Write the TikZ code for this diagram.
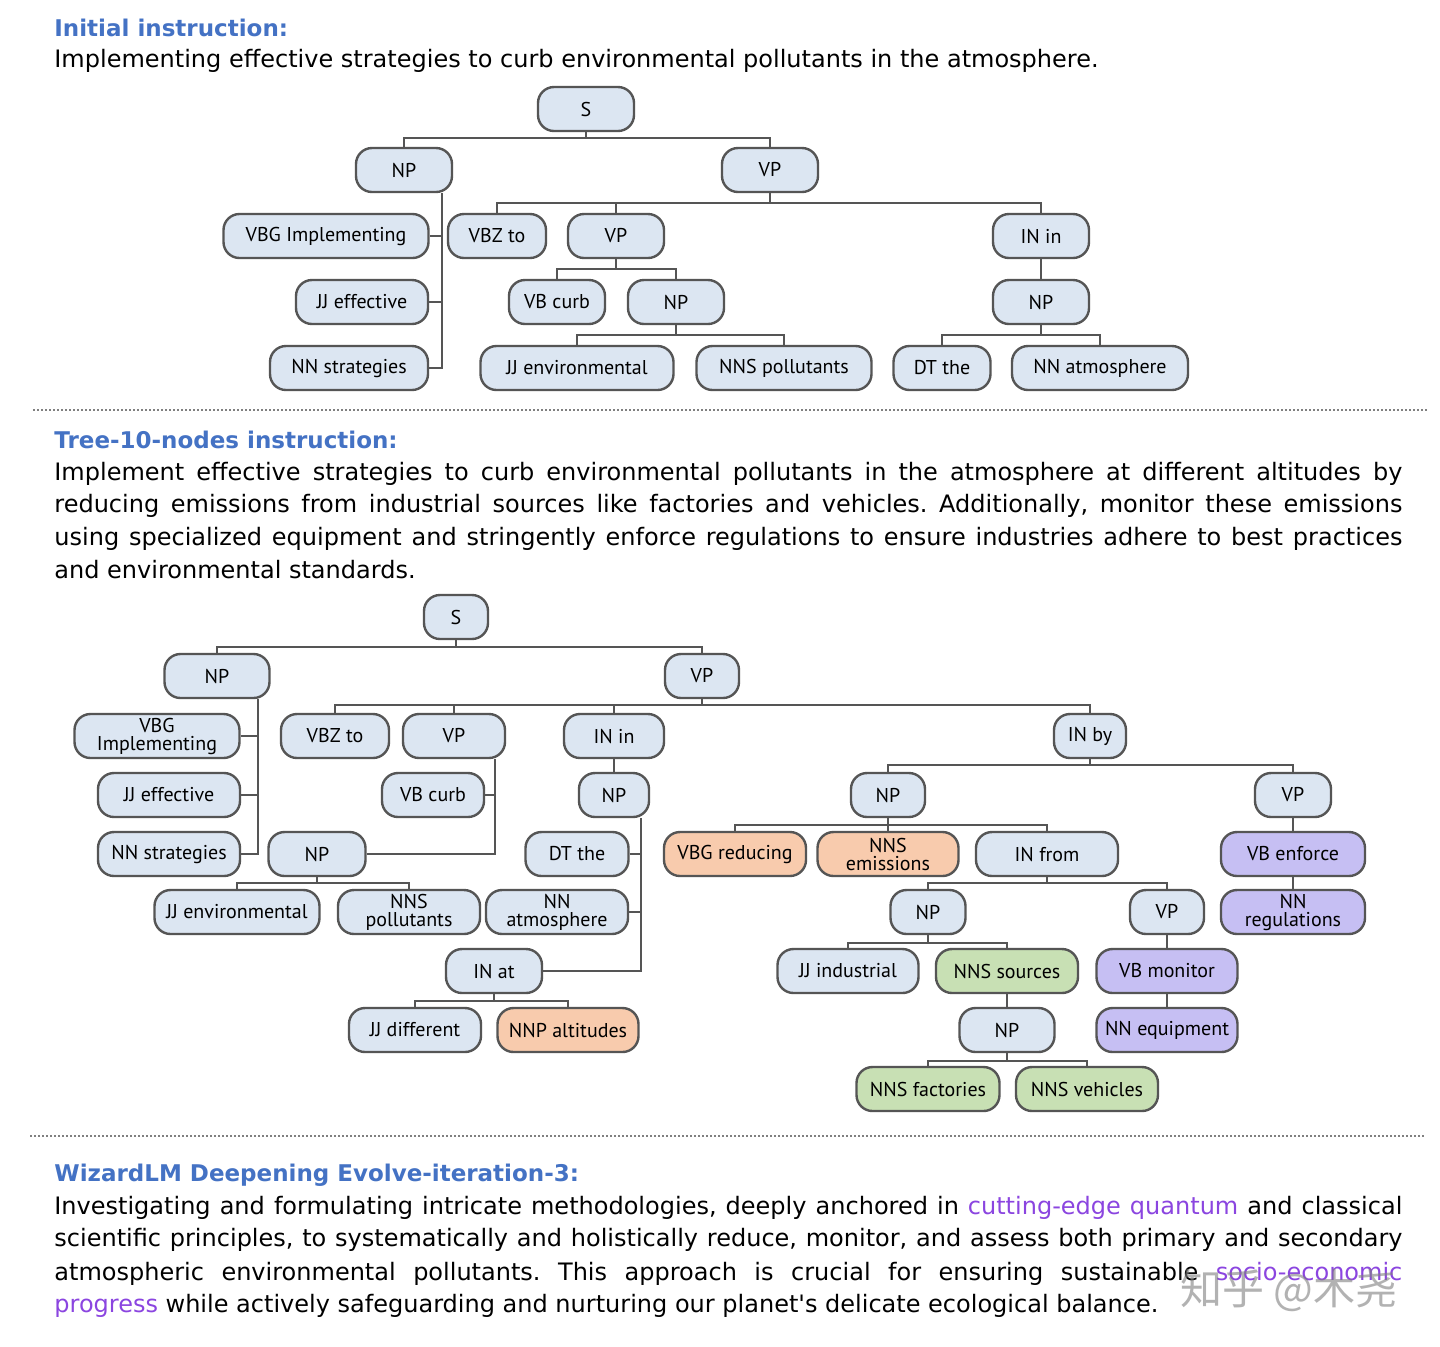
\documentclass[tikz,border=0pt]{standalone}
\usepackage{fontspec}
\usepackage{xcolor}
\setmainfont{DejaVu Sans}
\newfontfamily\nodefont{PT Sans}
\newfontfamily\cjkfont{Noto Sans CJK SC}
\definecolor{nblue}{HTML}{DCE6F2}
\definecolor{norange}{HTML}{F8CBAD}
\definecolor{ngreen}{HTML}{C8E0B4}
\definecolor{npurple}{HTML}{C6BFF3}
\definecolor{lineg}{HTML}{555555}
\definecolor{headblue}{HTML}{4472C4}
\definecolor{hl}{HTML}{8B45E0}
\newcommand\busdown[3]{\foreach \cc in {#3}{\draw[edge] (#1.south) -- (#1.south |- 0,#2) -| (\cc.north);}}
\newcommand\busside[3]{\foreach \cc in {#3}{\draw[edge] (\cc.east) -| (#1.south -| #2,0);}}
\newcommand\jline[1]{\makebox[674pt][s]{#1}}
\newcommand\straightapos{\XeTeXglyph\XeTeXcharglyph"27\relax}
\frenchspacing
\begin{document}
\begin{tikzpicture}[x=0.5pt,y=-0.5pt,
  tn/.style={draw=lineg, line width=1.2pt, rounded corners=8pt, fill=nblue, minimum height=22pt, inner sep=1pt, align=center, font=\nodefont\fontsize{10}{9}\selectfont},
  tw/.style={minimum width=#1*0.5pt},
  obr/.style={fill=norange}, ogr/.style={fill=ngreen}, opu/.style={fill=npurple},
  edge/.style={draw=lineg, line width=1.2pt},
  txt/.style={anchor=base west, inner sep=0, font=\fontsize{12}{14}\selectfont},
  head/.style={anchor=base west, inner sep=0, text=headblue, font=\bfseries\fontsize{11.5}{14}\selectfont},
  sep/.style={draw=gray, line width=0.6pt, dash pattern=on 1pt off 1pt}]
\fill[white] (0,0) rectangle (1440,1346);
\useasboundingbox (0,0) rectangle (1440,1346);

% ---------- Section 1 text ----------
\node[head] (h1) at (54,36) {Initial instruction:};
\node[txt] (t1) at (54,67) {Implementing effective strategies to curb environmental pollutants in the atmosphere.};

% ---------- Tree 1 ----------
\node[tn,tw=96] (S1) at (586,109) {S};
\node[tn,tw=96] (NP1) at (404,170) {NP};
\node[tn,tw=96] (VP1) at (770,170) {VP};
\node[tn,tw=205] (VBG1) at (326,236) {VBG Implementing};
\node[tn,tw=132] (JJe1) at (362,302) {JJ effective};
\node[tn,tw=158] (NNs1) at (349,368) {NN strategies};
\node[tn,tw=98] (VBZ1) at (497,236) {VBZ to};
\node[tn,tw=96] (VPb1) at (616,236) {VP};
\node[tn,tw=96] (INin1) at (1041,236) {IN in};
\node[tn,tw=96] (VBc1) at (557,302) {VB curb};
\node[tn,tw=96] (NPb1) at (676,302) {NP};
\node[tn,tw=193] (JJenv1) at (577,368) {JJ environmental};
\node[tn,tw=175] (NNSp1) at (784,368) {NNS pollutants};
\node[tn,tw=96] (NPc1) at (1041,302) {NP};
\node[tn,tw=97] (DT1) at (942,368) {DT the};
\node[tn,tw=176] (NNa1) at (1100,368) {NN atmosphere};

\busdown{S1}{138}{NP1,VP1}
\busdown{VP1}{203}{VBZ1,VPb1,INin1}
\busside{NP1}{442}{VBG1,JJe1,NNs1}
\busdown{VPb1}{269}{VBc1,NPb1}
\busdown{NPb1}{335}{JJenv1,NNSp1}
\draw[edge] (INin1.south) -- (NPc1.north);
\busdown{NPc1}{335}{DT1,NNa1}

\draw[sep] (33,410) -- (1428,410);

% ---------- Section 2 text ----------
\node[head] (h2) at (54,448) {Tree-10-nodes instruction:};
\node[txt] (t2a) at (54,480) {\jline{Implement effective strategies to curb environmental pollutants in the atmosphere at different altitudes by}};
\node[txt] (t2b) at (54,512) {\jline{reducing emissions from industrial sources like factories and vehicles. Additionally, monitor these emissions}};
\node[txt] (t2c) at (54,545) {\jline{using specialized equipment and stringently enforce regulations to ensure industries adhere to best practices}};
\node[txt] (t2d) at (54,578) {and environmental standards.};

% ---------- Tree 2 ----------
\node[tn,tw=64] (S2) at (456,617) {S};
\node[tn,tw=105] (NP2) at (217,676) {NP};
\node[tn,tw=74] (VP2) at (702,676) {VP};
\node[tn,tw=165] (VBG2) at (157,736) {VBG\\Implementing};
\node[tn,tw=142] (JJe2) at (169,795) {JJ effective};
\node[tn,tw=142] (NNs2) at (169,854) {NN strategies};
\node[tn,tw=108] (VBZ2) at (335,736) {VBZ to};
\node[tn,tw=102] (VPb2) at (454,736) {VP};
\node[tn,tw=100] (INin2) at (614,736) {IN in};
\node[tn,tw=72] (INby2) at (1090,736) {IN by};
\node[tn,tw=102] (VBc2) at (433,795) {VB curb};
\node[tn,tw=97] (NPb2) at (317,854) {NP};
\node[tn,tw=165] (JJenv2) at (237,912) {JJ environmental};
\node[tn,tw=142] (NNSp2) at (409,912) {NNS\\pollutants};
\node[tn,tw=70] (NPc2) at (614,795) {NP};
\node[tn,tw=103] (DT2) at (577,854) {DT the};
\node[tn,tw=142] (NNa2) at (557,912) {NN\\atmosphere};
\node[tn,tw=96] (INat2) at (494,971) {IN at};
\node[tn,tw=132] (JJd2) at (415,1030) {JJ different};
\node[tn,tw=141,obr] (NNPalt2) at (568,1030) {NNP altitudes};
\node[tn,tw=74] (NPd2) at (888,795) {NP};
\node[tn,tw=76] (VPc2) at (1293,795) {VP};
\node[tn,tw=142,obr] (VBGr2) at (735,854) {VBG reducing};
\node[tn,tw=141,obr] (NNSe2) at (888,854) {NNS\\emissions};
\node[tn,tw=142] (INfr2) at (1047,854) {IN from};
\node[tn,tw=75] (NPe2) at (928,912) {NP};
\node[tn,tw=74] (VPd2) at (1167,912) {VP};
\node[tn,tw=141] (JJi2) at (848,971) {JJ industrial};
\node[tn,tw=142,ogr] (NNSs2) at (1007,971) {NNS sources};
\node[tn,tw=95] (NPf2) at (1007,1030) {NP};
\node[tn,tw=143,ogr] (NNSf2) at (928,1089) {NNS factories};
\node[tn,tw=142,ogr] (NNSv2) at (1087,1089) {NNS vehicles};
\node[tn,tw=141,opu] (VBm2) at (1167,971) {VB monitor};
\node[tn,tw=141,opu] (NNeq2) at (1167,1030) {NN equipment};
\node[tn,tw=144,opu] (VBe2) at (1293,854) {VB enforce};
\node[tn,tw=144,opu] (NNr2) at (1293,912) {NN\\regulations};

\busdown{S2}{647}{NP2,VP2}
\busdown{VP2}{705}{VBZ2,VPb2,INin2,INby2}
\busside{NP2}{258}{VBG2,JJe2,NNs2}
\busside{VPb2}{495}{VBc2,NPb2}
\busdown{NPb2}{883}{JJenv2,NNSp2}
\draw[edge] (INin2.south) -- (NPc2.north);
\busside{NPc2}{641}{DT2,NNa2,INat2}
\busdown{INat2}{1001}{JJd2,NNPalt2}
\busdown{INby2}{765}{NPd2,VPc2}
\busdown{NPd2}{825}{VBGr2,NNSe2,INfr2}
\busdown{INfr2}{883}{NPe2,VPd2}
\busdown{NPe2}{943}{JJi2,NNSs2}
\draw[edge] (NNSs2.south) -- (NPf2.north);
\busdown{NPf2}{1061}{NNSf2,NNSv2}
\draw[edge] (VPd2.south) -- (VBm2.north);
\draw[edge] (VBm2.south) -- (NNeq2.north);
\draw[edge] (VPc2.south) -- (VBe2.north);
\draw[edge] (VBe2.south) -- (NNr2.north);

\draw[sep] (30,1136) -- (1425,1136);

% ---------- Section 3 text ----------
\node[head] (h3) at (54,1181) {WizardLM Deepening Evolve-iteration-3:};
\node[txt] (t3a) at (54,1214) {\jline{Investigating and formulating intricate methodologies, deeply anchored in \textcolor{hl}{cutting-edge quantum} and classical}};
\node[txt] (t3b) at (54,1246) {\jline{scientific principles, to systematically and holistically reduce, monitor, and assess both primary and secondary}};
\node[txt] (t3c) at (54,1280) {\jline{atmospheric environmental pollutants. This approach is crucial for ensuring sustainable \textcolor{hl}{socio-economic}}};
\node[txt] (t3d) at (54,1312) {\textcolor{hl}{progress} while actively safeguarding and nurturing our planet\straightapos s delicate ecological balance.};

\node[anchor=base west, inner sep=0, text=gray, opacity=0.6, font=\cjkfont\fontsize{21}{21}\selectfont] (wm) at (1180,1304) {知乎 @木尧};
\end{tikzpicture}
\end{document}
